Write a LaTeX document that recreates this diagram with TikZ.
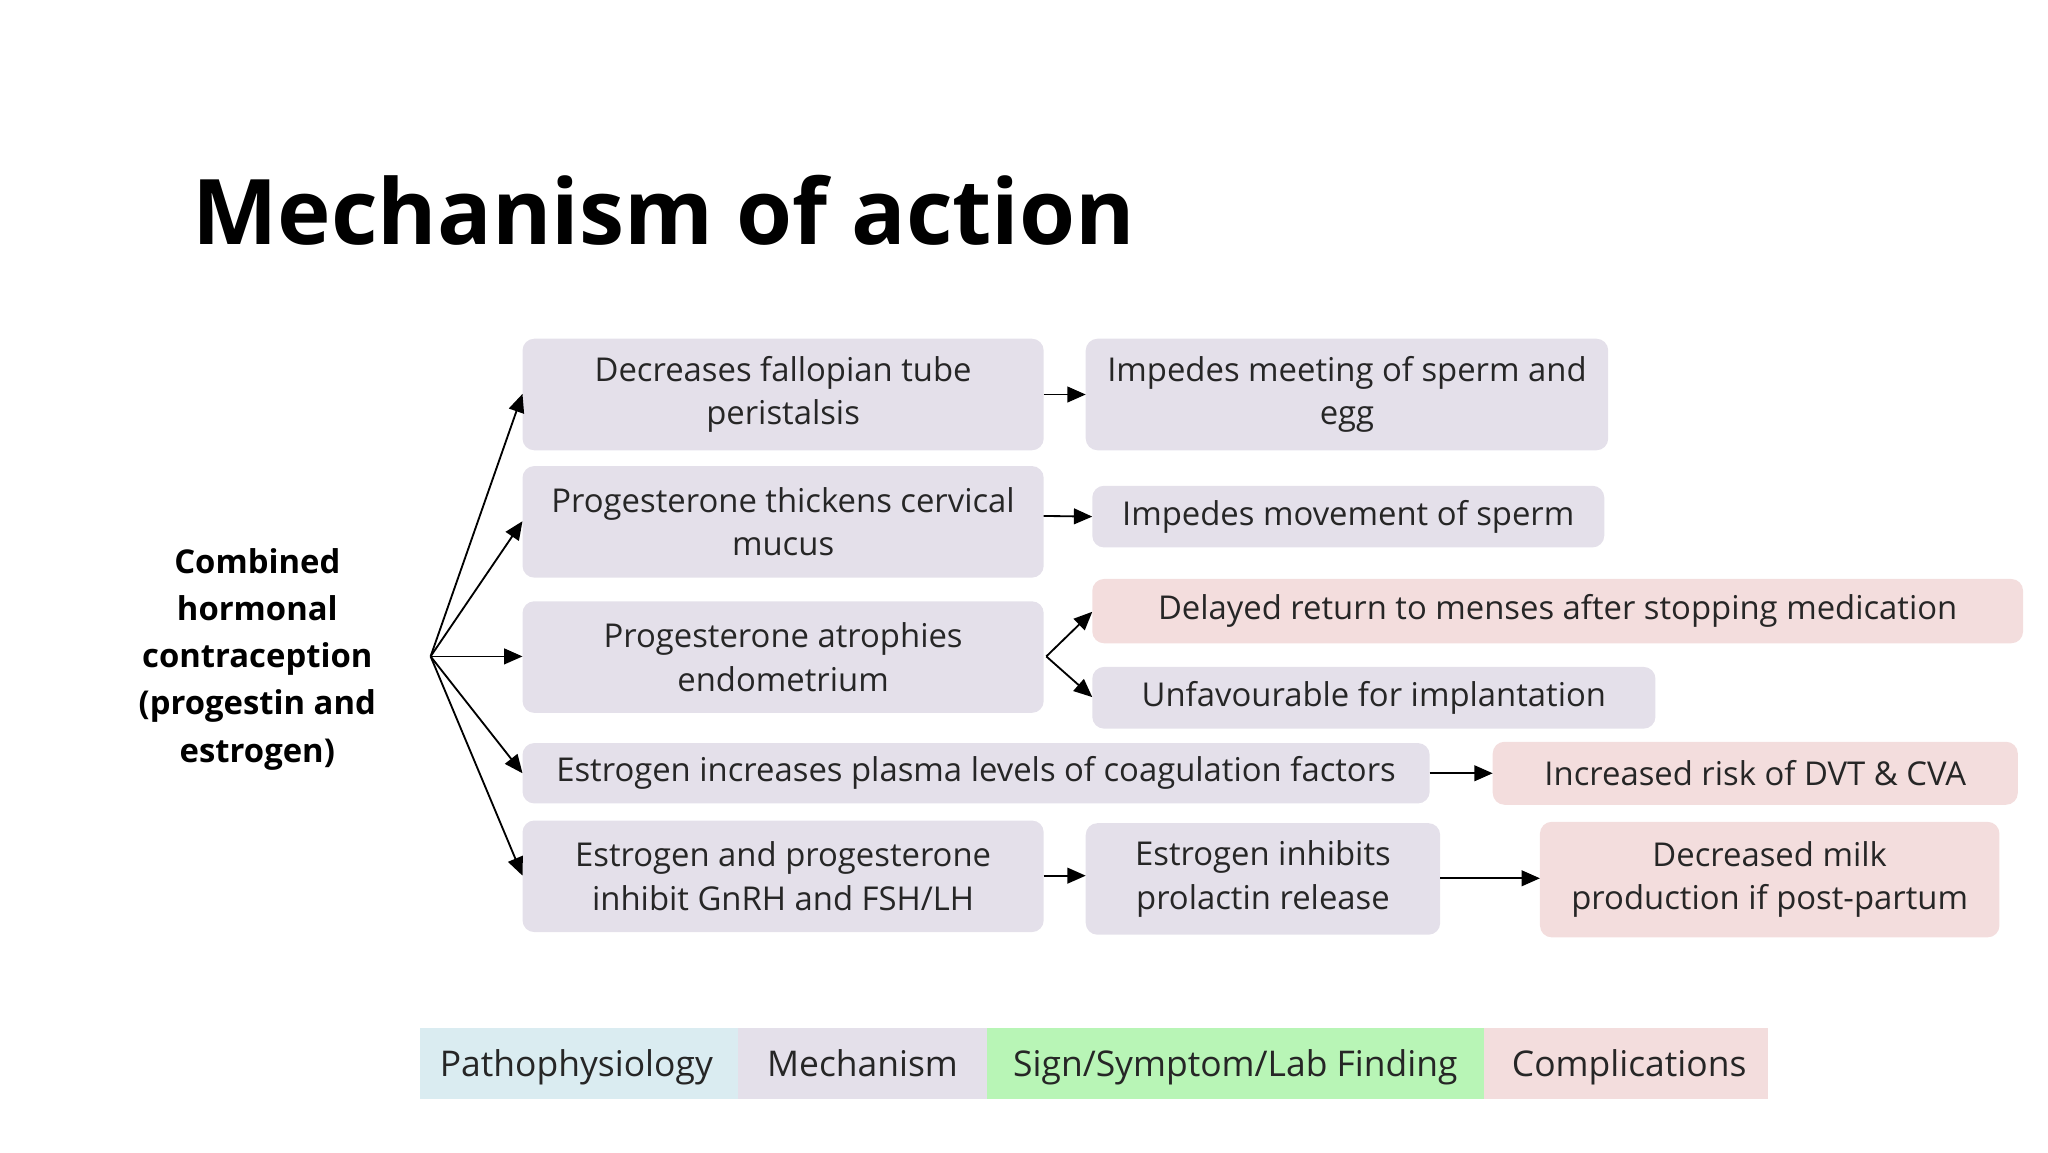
\documentclass[tikz,border=0pt]{standalone}
\usepackage{fontspec}
\setmainfont{Open Sans}
\usetikzlibrary{arrows.meta}
\definecolor{mech}{HTML}{E4E0EA}
\definecolor{comp}{HTML}{F3DDDD}
\definecolor{patho}{HTML}{DAECF1}
\definecolor{sign}{HTML}{B8F5B6}
\begin{document}
\begin{tikzpicture}[x=1pt,y=-1pt,
  box/.style={rounded corners=9pt,inner sep=0pt,align=center,font=\fontsize{25}{33}\selectfont,text=black!85},
  arr/.style={-{Triangle[length=14pt,width=12pt]},line width=1.4pt},
  leg/.style={inner sep=0pt,anchor=base,font=\fontsize{27}{33}\selectfont,text=black!85}]
\useasboundingbox (0,0) rectangle (1560,878);
\node[anchor=west,font=\fontsize{69}{74}\selectfont\bfseries] (title) at (143,160) {Mechanism of action};
\newcommand\bx[7]{\path[fill=#5,rounded corners=9pt] (#1,#3) rectangle (#2,#4);
  \node[box] (#6) at ({(#1+#2)/2},{(#3+#4)/2}) {#7};
  \coordinate (#6w) at (#1,{(#3+#4)/2}); \coordinate (#6e) at (#2,{(#3+#4)/2});}
\bx{398}{795}{258}{343}{mech}{a1}{Decreases fallopian tube\\peristalsis}
\bx{398}{795}{355}{440}{mech}{a2}{Progesterone thickens cervical\\mucus}
\bx{398}{795}{458}{543}{mech}{a3}{Progesterone atrophies\\endometrium}
\bx{398}{1089}{566}{612}{mech}{a4}{Estrogen increases plasma levels of coagulation factors}
\bx{398}{795}{625}{710}{mech}{a5}{Estrogen and progesterone\\inhibit GnRH and FSH/LH}
\bx{827}{1225}{258}{343}{mech}{b1}{Impedes meeting of sperm and\\egg}
\bx{832}{1222}{370}{417}{mech}{b2}{Impedes movement of sperm}
\bx{832}{1541}{441}{490}{comp}{b3}{Delayed return to menses after stopping medication}
\bx{832}{1261}{508}{555}{mech}{b4}{Unfavourable for implantation}
\bx{1137}{1537}{565}{613}{comp}{b5}{Increased risk of DVT \& CVA}
\bx{827}{1097}{627}{712}{mech}{b6}{Estrogen inhibits\\prolactin release}
\bx{1173}{1523}{626}{714}{comp}{b7}{Decreased milk\\production if post-partum}
\node[align=center,font=\fontsize{25}{36}\selectfont\bfseries] (src) at (196,502) {Combined\\hormonal\\contraception\\(progestin and\\estrogen)};
\coordinate (s) at (328,500);
\foreach \t/\y in {a1/300,a2/397,a3/500,a4/589,a5/667} \draw[arr] (s) -- (398,\y);
\draw[arr] (a1e) -- (b1w);
\draw[arr] (795,393) -- (b2w);
\coordinate (a3o) at (797,500);
\draw[arr] (a3o) -- (832,466);
\draw[arr] (a3o) -- (832,531);
\draw[arr] (a4e) -- (1137,589);
\draw[arr] (795,667) -- (827,667);
\draw[arr] (1097,669) -- (1173,669);
\path[fill=patho] (320,783) rectangle (562,837);
\path[fill=mech] (562,783) rectangle (752,837);
\path[fill=sign] (752,783) rectangle (1130,837);
\path[fill=comp] (1130,783) rectangle (1347,837);
\node[leg] (l1) at (439,820) {Pathophysiology};
\node[leg] (l2) at (657,820) {Mechanism};
\node[leg] (l3) at (941,820) {Sign/Symptom/Lab Finding};
\node[leg] (l4) at (1241,820) {Complications};
\end{tikzpicture}
\end{document}
